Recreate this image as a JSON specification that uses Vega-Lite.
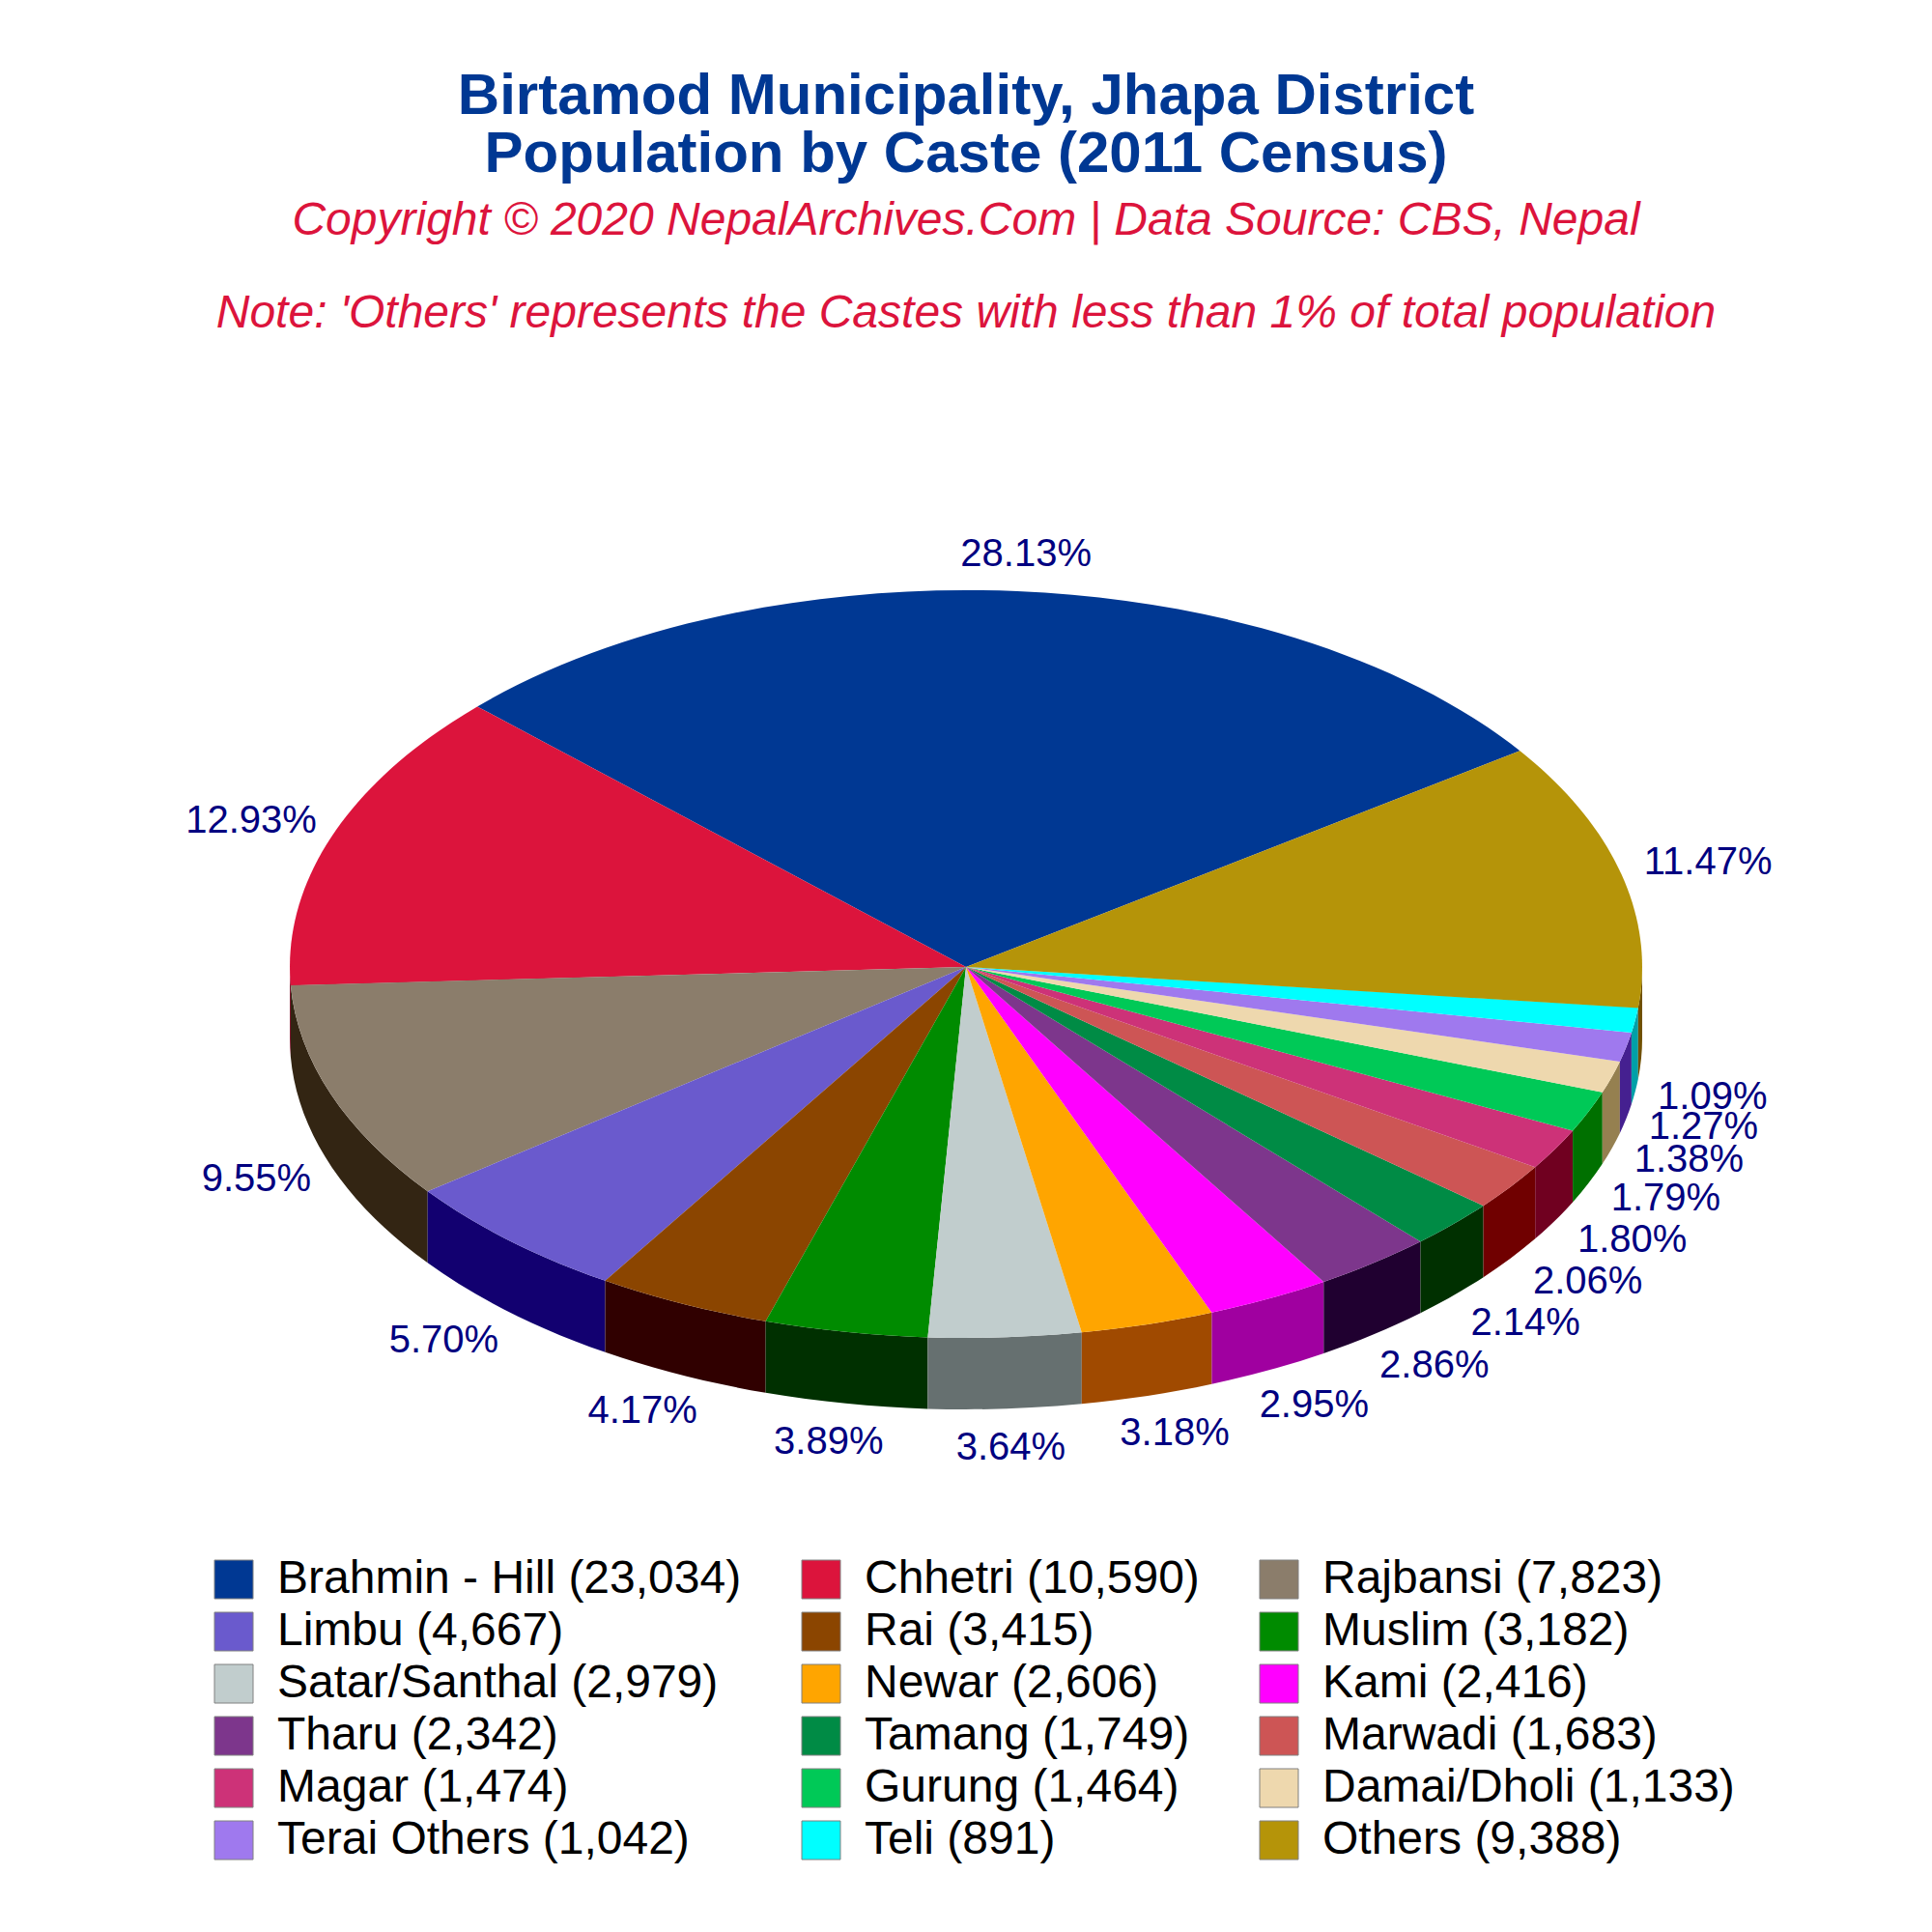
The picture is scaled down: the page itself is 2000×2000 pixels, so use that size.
{
"$schema":"https://vega.github.io/schema/vega-lite/v6.json",
"width":2000,"height":1600,
"autosize":{"type":"none"},
"padding":{"left":0,"top":400,"right":0,"bottom":0},
"background":"white",
"config":{"view":{"stroke":null},"font":"Liberation Sans"},
"title":{"text":["Birtamod Municipality, Jhapa District","Population by Caste (2011 Census)"],
"subtitle":["Copyright © 2020 NepalArchives.Com | Data Source: CBS, Nepal","Note: 'Others' represents the Castes with less than 1% of total population"],
"anchor":"middle","frame":"group","font":"Liberation Sans","fontSize":60,"fontWeight":"bold","color":"#003893","lineHeight":60,
"subtitleFont":"Liberation Sans","subtitleFontSize":48,"subtitleFontStyle":"italic","subtitleColor":"#DC143C","subtitleLineHeight":96,"subtitlePadding":14,"offset":50},
"data":{"values":[
{"caste":"Brahmin - Hill","population":23034},
{"caste":"Chhetri","population":10590},
{"caste":"Rajbansi","population":7823},
{"caste":"Limbu","population":4667},
{"caste":"Rai","population":3415},
{"caste":"Muslim","population":3182},
{"caste":"Satar/Santhal","population":2979},
{"caste":"Newar","population":2606},
{"caste":"Kami","population":2416},
{"caste":"Tharu","population":2342},
{"caste":"Tamang","population":1749},
{"caste":"Marwadi","population":1683},
{"caste":"Magar","population":1474},
{"caste":"Gurung","population":1464},
{"caste":"Damai/Dholi","population":1133},
{"caste":"Terai Others","population":1042},
{"caste":"Teli","population":891},
{"caste":"Others","population":9388}
]},
"transform":[
{"joinaggregate":[{"op":"sum","field":"population","as":"total"}]},
{"window":[{"op":"sum","field":"population","as":"cum"}],"ignorePeers":true},
{"calculate":"datum.caste+' ('+format(datum.population,',')+')'","as":"entry"},
{"calculate":"format(datum.population/datum.total,'.2%')","as":"pct"},
{"calculate":"(35+(datum.cum-datum.population)/datum.total*360)*PI/180","as":"t1"},
{"calculate":"(35+datum.cum/datum.total*360)*PI/180","as":"t2"},
{"calculate":"(datum.t1+datum.t2)/2","as":"tm"},
{"calculate":"max(datum.t1,PI)","as":"w1"},
{"calculate":"min(datum.t2,2*PI)","as":"w2"},
{"calculate":"sin(datum.tm)<0?384:390","as":"ry"},
{"calculate":"1000","as":"cx"},
{"calculate":"1001","as":"cy"},
{"calculate":"cos(datum.tm)","as":"c"},
{"calculate":"1000+700*datum.c+(datum.c<0?(length(datum.pct)==6?-84:-77):(length(datum.pct)==6?90:80))*min(1,1.3*abs(datum.c))","as":"lx"},
{"calculate":"1001-425*sin(datum.tm)+(sin(datum.tm)<0?74:-3)","as":"ly"},
{"calculate":"'M0,0L'+round(7000*cos(datum.t1))/10+','+round(-10*datum.ry*sin(datum.t1))/10+'A700,'+datum.ry+' 0 0 0 '+round(7000*cos(datum.t2))/10+','+round(-10*datum.ry*sin(datum.t2))/10+'Z'","as":"topPath"},
{"calculate":"'M'+round(7000*cos(datum.w1))/10+','+round(-3840*sin(datum.w1))/10+'A700,384 0 0 0 '+round(7000*cos(datum.w2))/10+','+round(-3840*sin(datum.w2))/10+'L'+round(7000*cos(datum.w2))/10+','+round(740-3840*sin(datum.w2))/10+'A700,384 0 0 1 '+round(7000*cos(datum.w1))/10+','+round(740-3840*sin(datum.w1))/10+'Z'","as":"wallPath"}
],
"layer":[
{"transform":[{"filter":"datum.w2>datum.w1"}],
"mark":{"type":"point","filled":true,"opacity":1,"size":4},
"encoding":{
"x":{"field":"cx","type":"quantitative","scale":{"domain":[0,2000]},"axis":null},
"y":{"field":"cy","type":"quantitative","scale":{"domain":[2000,400]},"axis":null},
"shape":{"field":"wallPath","type":"nominal","scale":null},
"color":{"field":"caste","type":"nominal","legend":null,"scale":{
"domain":["Brahmin - Hill","Chhetri","Rajbansi","Limbu","Rai","Muslim","Satar/Santhal","Newar","Kami","Tharu","Tamang","Marwadi","Magar","Gurung","Damai/Dholi","Terai Others","Teli","Others"],
"range":["#003066","#7C0020","#332513","#120070","#300000","#003000","#667070","#A04A00","#A000A0","#200030","#003000","#700000","#700020","#007000","#958050","#452090","#00A0A8","#705000"]}}
}},
{"mark":{"type":"point","filled":true,"opacity":1,"size":4},
"encoding":{
"x":{"field":"cx","type":"quantitative","scale":{"domain":[0,2000]},"axis":null},
"y":{"field":"cy","type":"quantitative","scale":{"domain":[2000,400]},"axis":null},
"shape":{"field":"topPath","type":"nominal","scale":null},
"fill":{"field":"entry","type":"nominal","scale":{
"domain":["Brahmin - Hill (23,034)","Chhetri (10,590)","Rajbansi (7,823)","Limbu (4,667)","Rai (3,415)","Muslim (3,182)","Satar/Santhal (2,979)","Newar (2,606)","Kami (2,416)","Tharu (2,342)","Tamang (1,749)","Marwadi (1,683)","Magar (1,474)","Gurung (1,464)","Damai/Dholi (1,133)","Terai Others (1,042)","Teli (891)","Others (9,388)"],
"range":["#003893","#DC143C","#8B7D6B","#6A5ACD","#8B4500","#008B00","#C1CDCD","#FFA500","#FF00FF","#7D368C","#008B45","#CD5555","#CD3278","#00C957","#EED8AE","#9F79EE","#00FFFF","#B59409"]},
"legend":{"orient":"none","direction":"horizontal","legendX":218,"legendY":1211,"columns":3,"title":null,"symbolType":"square","symbolSize":1600,"symbolStrokeColor":"#808080","symbolStrokeWidth":1,"symbolOpacity":1,"labelFont":"Liberation Sans","labelFontSize":48,"labelColor":"#000000","labelLimit":1000,"labelOffset":21,"rowPadding":6,"columnPadding":58,"gridAlign":"each"}}
}},
{"mark":{"type":"text","font":"Liberation Sans","fontSize":40,"color":"#000080","align":"center","baseline":"middle"},
"encoding":{
"x":{"field":"lx","type":"quantitative","scale":{"domain":[0,2000]},"axis":null},
"y":{"field":"ly","type":"quantitative","scale":{"domain":[2000,400]},"axis":null},
"text":{"field":"pct","type":"nominal"}
}}
],
"resolve":{"scale":{"color":"independent","fill":"independent"}}
}
